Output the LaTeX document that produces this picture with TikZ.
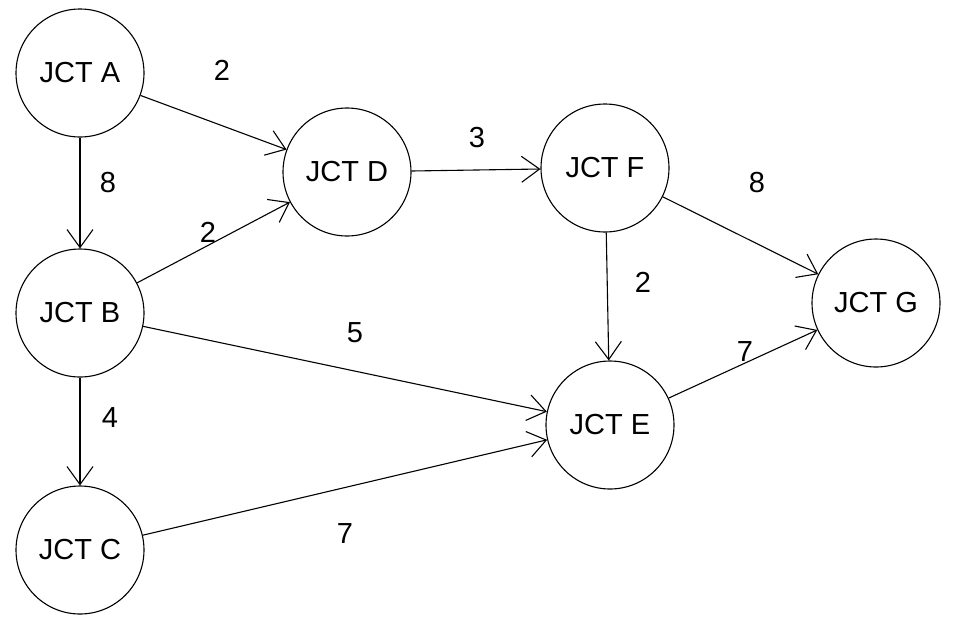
\documentclass[tikz,border=0pt]{standalone}
\usepackage{fontspec}
\setmainfont{Liberation Sans}
\usetikzlibrary{arrows.meta}
\begin{document}
\begin{tikzpicture}[x=1pt,y=-1pt,
  jct/.style={circle,draw,line width=1.1pt,minimum size=128pt,inner sep=0pt,font=\fontsize{29}{31}\selectfont},
  link/.style={line width=1.1pt,-{Straight Barb[length=18pt,width=26pt,line width=1.1pt]}},
  wt/.style={font=\fontsize{29}{31}\selectfont}]
\useasboundingbox[fill=white] (0,0) rectangle (970,638);
\node[jct] (A) at (80,73) {JCT A};
\node[jct] (D) at (347,172) {JCT D};
\node[jct] (F) at (605,168) {JCT F};
\node[jct] (G) at (876,303) {JCT G};
\node[jct] (B) at (80,313) {JCT B};
\node[jct] (E) at (610,425) {JCT E};
\node[jct] (C) at (80,550) {JCT C};
\draw[link] (A) -- (D);
\draw[link] (A) -- (B);
\draw[link] (B) -- (D);
\draw[link] (D) -- (F);
\draw[link] (F) -- (G);
\draw[link] (F) -- (E);
\draw[link] (B) -- (E);
\draw[link] (E) -- (G);
\draw[link] (B) -- (C);
\draw[link] (C) -- (E);
\node[wt] (w1) at (222,70) {2};
\node[wt] (w2) at (108,183) {8};
\node[wt] (w3) at (208,232) {2};
\node[wt] (w4) at (477,138) {3};
\node[wt] (w5) at (757,183) {8};
\node[wt] (w6) at (643,282) {2};
\node[wt] (w7) at (355,333) {5};
\node[wt] (w8) at (745,352) {7};
\node[wt] (w9) at (110,418) {4};
\node[wt] (w10) at (345,534) {7};
\end{tikzpicture}
\end{document}
